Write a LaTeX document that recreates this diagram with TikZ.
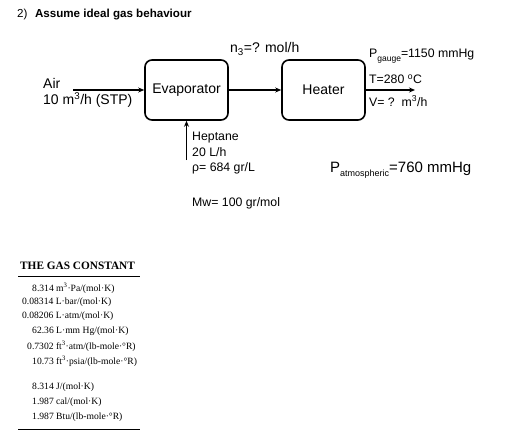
\documentclass[tikz,border=0pt]{standalone}
\usepackage{fontspec}
\setmainfont{Liberation Sans}
\newfontfamily\timesfont{Liberation Serif}
\usetikzlibrary{arrows.meta,positioning}
\newcommand{\lowsub}[2]{\raisebox{-0.3em}{\fontsize{#1}{#1}\selectfont #2}}
\tikzset{
	unit/.style={draw, line width=1.6pt, rounded corners=7pt, minimum width=83pt, minimum height=60pt, inner sep=0pt, font=\fontsize{14}{16}\selectfont},
	stream/.style={line width=1.3pt, -{Stealth[length=6pt, width=5pt]}},
	lbl/.style={anchor=west, inner sep=0pt, font=\fontsize{12.3}{15.5}\selectfont},
	gc/.style={anchor=west, inner sep=0pt, font=\timesfont\fontsize{9.6}{11}\selectfont},
}

\begin{document}
\begin{tikzpicture}[x=1pt, y=-1pt]
\useasboundingbox (0,0) rectangle (514,444);
\node[anchor=west, inner sep=0pt, font=\fontsize{11.6}{13}\selectfont] (title) at (17,15) {2)\hspace{7.5pt}\textbf{Assume ideal gas behaviour}};
% units
\node[unit] (evap) at (186.5,90) {Evaporator};
\node[unit] (heater) at (323.5,90) {Heater};
\coordinate (airin) at (73,90);
\coordinate (prodout) at (415,90);
\coordinate (hepin) at (186.5,160);
\path[stream] (airin) edge (evap.west)
(evap.east) edge (heater.west)
(heater.east) edge (prodout)
(hepin) edge (evap.south);
% stream labels
\node[anchor=west, inner sep=0pt, align=left, font=\fontsize{14}{16}\selectfont] (air) at (43,93) {Air\\10 m\textsuperscript{3}/h (STP)};
\node[anchor=west, inner sep=0pt, font=\fontsize{14}{16}\selectfont] (n3) at (230,49) {n\textsubscript{3}=? mol/h};
\node[lbl] (pg) at (369,56) {P\lowsub{8.5}{gauge}=1150 mmHg};
\node[lbl] (temp) at (369,79) {T=280 \textsuperscript{o}C};
\node[lbl] (vol) at (369,101) {V= ?\ \ m\textsuperscript{3}/h};
\node[lbl, align=left] (hep) at (192,153.5) {Heptane\\20 L/h\\ρ= 684 gr/L};
\node[lbl] (mw) at (192,203) {Mw= 100 gr/mol};
\node[anchor=west, inner sep=0pt, font=\fontsize{15}{17}\selectfont] (patm) at (330,170) {P\lowsub{9}{atmospheric}=760 mmHg};
% gas constant table
\node[anchor=west, inner sep=0pt, font=\timesfont\bfseries\fontsize{11.3}{13}\selectfont] (gct) at (20,266) {THE GAS CONSTANT};
\draw[line width=0.8pt] (18,276) -- (140,276);
\node[gc] (r1) at (32,288) {8.314 m\textsuperscript{3}·Pa/(mol·K)};
\node[gc] (r2) at (22,302) {0.08314 L·bar/(mol·K)};
\node[gc] (r3) at (22,316) {0.08206 L·atm/(mol·K)};
\node[gc] (r4) at (32,331.5) {62.36 L·mm Hg/(mol·K)};
\node[gc] (r5) at (27,346.5) {0.7302 ft\textsuperscript{3}·atm/(lb-mole·°R)};
\node[gc] (r6) at (32,361.5) {10.73 ft\textsuperscript{3}·psia/(lb-mole·°R)};
\node[gc] (r7) at (32,387) {8.314 J/(mol·K)};
\node[gc] (r8) at (32,402) {1.987 cal/(mol·K)};
\node[gc] (r9) at (32,417.5) {1.987 Btu/(lb-mole·°R)};
\draw[line width=0.8pt] (18,429) -- (140,429);
\end{tikzpicture}
\end{document}
